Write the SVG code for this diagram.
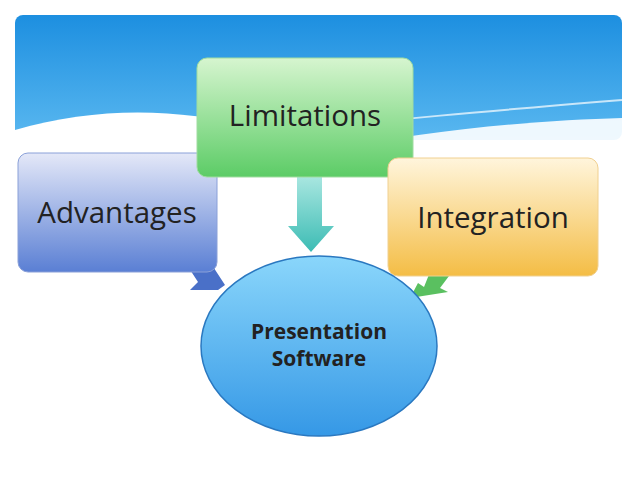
<svg xmlns="http://www.w3.org/2000/svg" width="638" height="478" viewBox="0 0 638 478">
<defs>
<linearGradient id="sky" x1="0" y1="0" x2="0" y2="1"><stop offset="0" stop-color="#1d8fe0"/><stop offset="1" stop-color="#5ab8f0"/></linearGradient>
<linearGradient id="gA" x1="0" y1="0" x2="0" y2="1"><stop offset="0" stop-color="#e4e8f8"/><stop offset="1" stop-color="#5a7fd4"/></linearGradient>
<linearGradient id="gL" x1="0" y1="0" x2="0" y2="1"><stop offset="0" stop-color="#d6f5cf"/><stop offset="1" stop-color="#5ccc66"/></linearGradient>
<linearGradient id="gI" x1="0" y1="0" x2="0" y2="1"><stop offset="0" stop-color="#fff5dc"/><stop offset="1" stop-color="#f4bd45"/></linearGradient>
<linearGradient id="gC" x1="0" y1="0" x2="0" y2="1"><stop offset="0" stop-color="#8ad6fb"/><stop offset="1" stop-color="#3598e6"/></linearGradient>
<linearGradient id="gT" x1="0" y1="0" x2="0" y2="1"><stop offset="0" stop-color="#a8e6e0"/><stop offset="1" stop-color="#3cbcb4"/></linearGradient>
<style>
.t{font-family:"Open Sans","Liberation Sans",sans-serif;fill:#222;text-anchor:middle}
.box{rx:10}
</style>
</defs>
<rect x="15" y="15" width="607" height="125" rx="8" fill="url(#sky)"/>
<path d="M15 130 C120 100 220 110 330 150 L15 150 Z" fill="#fff"/>
<path d="M330 150 C430 130 540 120 622 118 L622 150 Z" fill="#fff" opacity="0.9"/>
<path d="M260 135 C380 120 500 110 622 100" fill="none" stroke="#fff" stroke-width="2" opacity="0.7"/>
<rect x="0" y="140" width="638" height="20" fill="#fff"/>
<g id="connectors">
<path d="M185 262 L212 255 L210 262 L225 285 L218 290 L190 290 L198 282 Z" fill="#4a70c8"/>
<path d="M297 177 L322 177 L322 226 L334 226 L311 252 L288 226 L297 226 Z" fill="url(#gT)"/>
<path d="M430 272 L452 272 L440 288 L448 292 L410 298 L418 283 L424 287 Z" fill="#5ac060"/>
</g>
<g id="advantages"><rect class="box" x="18" y="153" width="199" height="119" fill="url(#gA)" stroke="#8aa0d8"/><text class="t" x="117" y="223" font-size="29.5">Advantages</text></g>
<g id="limitations"><rect class="box" x="197" y="58" width="216" height="119" fill="url(#gL)" stroke="#a0dca0"/><text class="t" x="305" y="126" font-size="29.5">Limitations</text></g>
<g id="integration"><rect class="box" x="388" y="158" width="210" height="118" fill="url(#gI)" stroke="#f0d090"/><text class="t" x="493" y="228" font-size="29.5">Integration</text></g>
<g id="presentation"><ellipse cx="319" cy="346" rx="118" ry="90" fill="url(#gC)" stroke="#2a78c0" stroke-width="1.5"/><text class="t" x="319" y="339" font-size="21" font-weight="bold">Presentation</text><text class="t" x="319" y="366" font-size="21" font-weight="bold">Software</text></g>
</svg>
